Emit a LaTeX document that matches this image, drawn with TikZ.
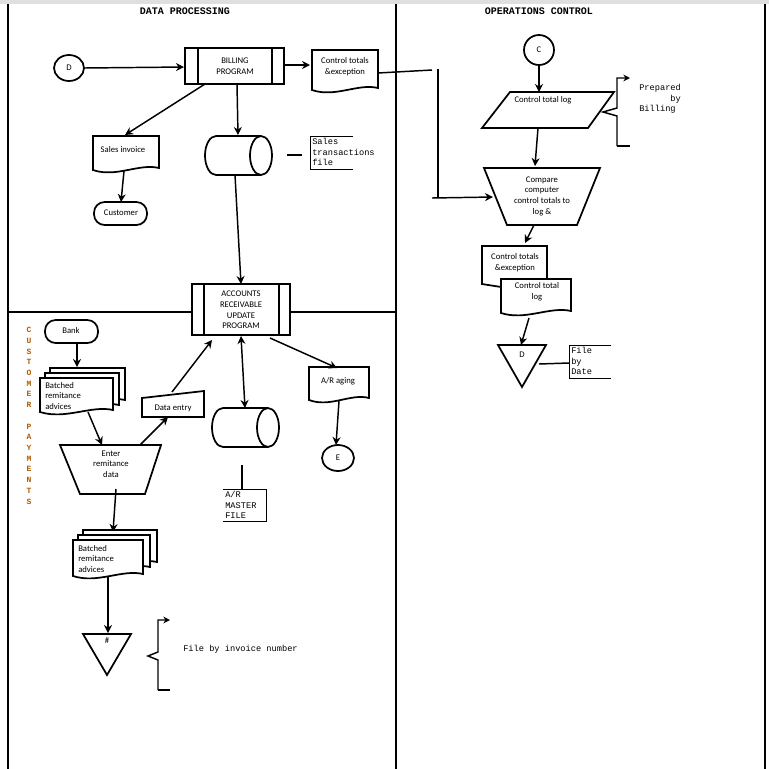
\documentclass[tikz,border=0pt]{standalone}
\usepackage{fontspec}
\setmainfont{Carlito}
\newfontfamily\mono{Liberation Mono}
\usetikzlibrary{arrows.meta}
\newcommand\docshape[4]{\draw[shp] (#1,#2) -- (#3,#2) -- (#3,#4-4) .. controls (#3-0.3*#3+0.3*#1,#4-9) and (#1+0.35*#3-0.35*#1,#4+6) .. (#1,#4-2) -- cycle;}
\newcommand\docfill[4]{\filldraw[shp,fill=white] (#1,#2) -- (#3,#2) -- (#3,#4-4) .. controls (#3-0.3*#3+0.3*#1,#4-9) and (#1+0.35*#3-0.35*#1,#4+6) .. (#1,#4-2) -- cycle;}
\newcommand\cyl[4]{\draw[shp] (#3,#2) -- (#1,#2) arc[start angle=270,end angle=90,x radius=11,y radius=0.5*#4-0.5*#2] -- (#3,#4);
  \draw[shp] (#3,0.5*#2+0.5*#4) ellipse (11 and 0.5*#4-0.5*#2);}
\begin{document}
\begin{tikzpicture}[x=0.75pt,y=-0.75pt,
  shp/.style={line width=1.3pt},
  ln/.style={line width=1.1pt},
  ar/.style={line width=1.1pt,-{Stealth[length=6pt,width=6pt]}},
  txt/.style={font=\fontsize{6.5}{8}\selectfont,align=center,inner sep=0pt},
  mt/.style={font=\mono\fontsize{6.5}{8}\selectfont,align=left,inner sep=0pt,anchor=north west},
  hd/.style={font=\mono\bfseries\fontsize{7.5}{9}\selectfont,inner sep=0pt}]
\useasboundingbox (0,0) rectangle (769,769);
\fill[gray!25] (0,0) rectangle (769,4);
% frame
\draw[line width=0.8pt] (8,4) -- (8,769);
\draw[line width=0.8pt] (396,4) -- (396,769);
\draw[line width=0.8pt] (765,4) -- (765,769);
\draw[line width=0.8pt] (8,312) -- (396,312);
\node[hd] (h1) at (185,11) {DATA PROCESSING};
\node[hd] (h2) at (539,11) {OPERATIONS CONTROL};
% D circle
\draw[shp] (69,68) ellipse (15 and 13); \node[txt] (d1) at (69,68) {D};
% billing
\draw[shp] (185,48) rectangle (284,84); \draw[shp] (198,48)--(198,84) (272,48)--(272,84);
\node[txt] (bill) at (235,66) {BILLING\\PROGRAM};
\draw[ar] (84,68) -- (184,67);
\draw[ar] (283,65) -- (310,65);
\docshape{312}{50}{378}{92}
\node[txt] (ct) at (345,67) {Control totals\\\&exception};
\draw[ln] (378,73) -- (432,70);
\draw[ln] (438,69) -- (438,198);
\draw[ar] (432,198) -- (493,197);
% sales invoice
\draw[ar] (205,84) -- (125,135);
\docshape{93}{136}{159}{172}
\node[txt] (si) at (123,150) {Sales invoice};
\draw[ar] (124,171) -- (121,202);
\draw[shp,rounded corners=8pt] (94,202) rectangle (147,225);
\node[txt] (cu) at (121,213) {Customer};
% cylinder
\draw[ar] (237,84) -- (238,135);
\cyl{216}{136}{261}{175}
\draw[shp] (287,155) -- (302,155);
\draw[line width=0.6pt] (353,136) -- (310,136) -- (310,169) -- (353,169);
\node[mt] (stf) at (312,138) {Sales\\transactions\\file};
\draw[ar] (235,175) -- (241,284);
% AR program
\filldraw[shp,fill=white] (192,284) rectangle (290,335); \draw[shp] (204,284)--(204,335) (279,284)--(279,335);
\node[txt] (arp) at (241,310) {ACCOUNTS\\RECEIVABLE\\UPDATE\\PROGRAM};
% vertical letters
\foreach \c/\y in {C/330,U/341,S/352,T/362,O/373,M/384,E/394,R/405,P/427,A/437,Y/448,M/459,E/469,N/480,T/491,S/502}
  \node[font=\mono\bfseries\fontsize{6}{7}\selectfont,text=orange!70!black,inner sep=0pt] at (29,\y) {\c};
% bank
\draw[shp,rounded corners=8pt] (45,320) rectangle (98,343);
\node[txt] (bank) at (71,331) {Bank};
\draw[ar] (77,343) -- (77,367);
\docfill{50}{368}{125}{404}
\docfill{45}{373}{119}{409}
\docfill{40}{378}{113}{414}
\node[txt,align=left,anchor=north west] (ba1) at (45,382) {Batched\\remitance\\advices};
\draw[ar] (88,412) -- (102,445);
% enter trapezoid
\draw[shp] (60,445) -- (161,445) -- (145,494) -- (80,494) -- cycle;
\node[txt] (er) at (111,464) {Enter\\remitance\\data};
\draw[ar] (140,445) -- (168,417);
\draw[shp] (142,398) -- (204,391) -- (204,417) -- (142,417) -- cycle;
\node[txt] (de) at (173,408) {Data entry};
\draw[ar] (172,392) -- (212,340);
% AR master
\draw[line width=1.1pt,{Stealth[length=6pt,width=6pt]}-{Stealth[length=6pt,width=6pt]}] (241,336) -- (245,408);
\cyl{223}{408}{268}{447}
\draw[ln] (242,465) -- (242,490);
\draw[line width=0.6pt] (223,489) -- (266,489) -- (266,521) -- (223,521);
\node[mt] (amf) at (225,491) {A/R\\MASTER\\FILE};
% aging
\draw[ar] (270,338) -- (337,368);
\docshape{309}{367}{369}{402}
\node[txt] (ag) at (338,381) {A/R aging};
\draw[ar] (339,401) -- (336,445);
\draw[shp] (338,458) ellipse (16 and 13); \node[txt] (e1) at (338,458) {E};
% batched 2
\draw[ar] (116,489) -- (113,532);
\docfill{83}{530}{157}{566}
\docfill{78}{535}{150}{571}
\docfill{73}{540}{143}{578}
\node[txt,align=left,anchor=north west] (ba2) at (78,545) {Batched\\remitance\\advices};
\draw[ar] (108,577) -- (108,633);
\draw[shp] (83,634) -- (131,634) -- (107,675) -- cycle;
\node[txt] (hash) at (107,641) {\#};
\draw[ln,-{Stealth[length=5pt,width=5pt]}] (158,690) -- (158,660) -- (148,656) -- (158,652) -- (158,620) -- (170,620);
\draw[ln] (158,690) -- (170,690);
\node[mt] (fin) at (183,645) {File by invoice number};
% operations
\draw[shp] (539,50) circle (15); \node[txt] (c1) at (539,50) {C};
\draw[ar] (539,65) -- (539,92);
\draw[shp] (482,128) -- (510,92) -- (614,92) -- (588,128) -- cycle;
\node[txt] (ctl) at (543,100) {Control total log};
\draw[ln,-{Stealth[length=5pt,width=5pt]}] (617,146) -- (617,116) -- (603,112) -- (617,108) -- (617,78) -- (630,78);
\draw[ln] (617,146) -- (630,146);
\node[mt] (pb) at (639,84) {Prepared\\\ \ \ \ \ \ by\\Billing};
\draw[ar] (538,128) -- (535,166);
\draw[shp] (484,168) -- (600,168) -- (577,225) -- (507,225) -- cycle;
\node[txt] (cmp) at (542,196) {Compare\\computer\\control totals to\\log \&};
\draw[ar] (534,225) -- (525,243);
\draw[shp] (501,287) .. controls (495,286) and (488,285) .. (482,284) -- (482,246) -- (547,246) -- (547,279);
\node[txt] (ct2) at (515,263) {Control totals\\\&exception};
\docfill{501}{279}{571}{315}
\node[txt] (ctl2) at (537,292) {Control total\\log};
\draw[ar] (529,318) -- (521,345);
\draw[shp] (498,345) -- (546,345) -- (522,387) -- cycle;
\node[txt] (d2) at (522,355) {D};
\draw[ln] (539,364) -- (569,363);
\draw[line width=0.6pt] (611,345) -- (569,345) -- (569,378) -- (611,378);
\node[mt] (fbd) at (571,347) {File\\by\\Date};
\end{tikzpicture}
\end{document}
